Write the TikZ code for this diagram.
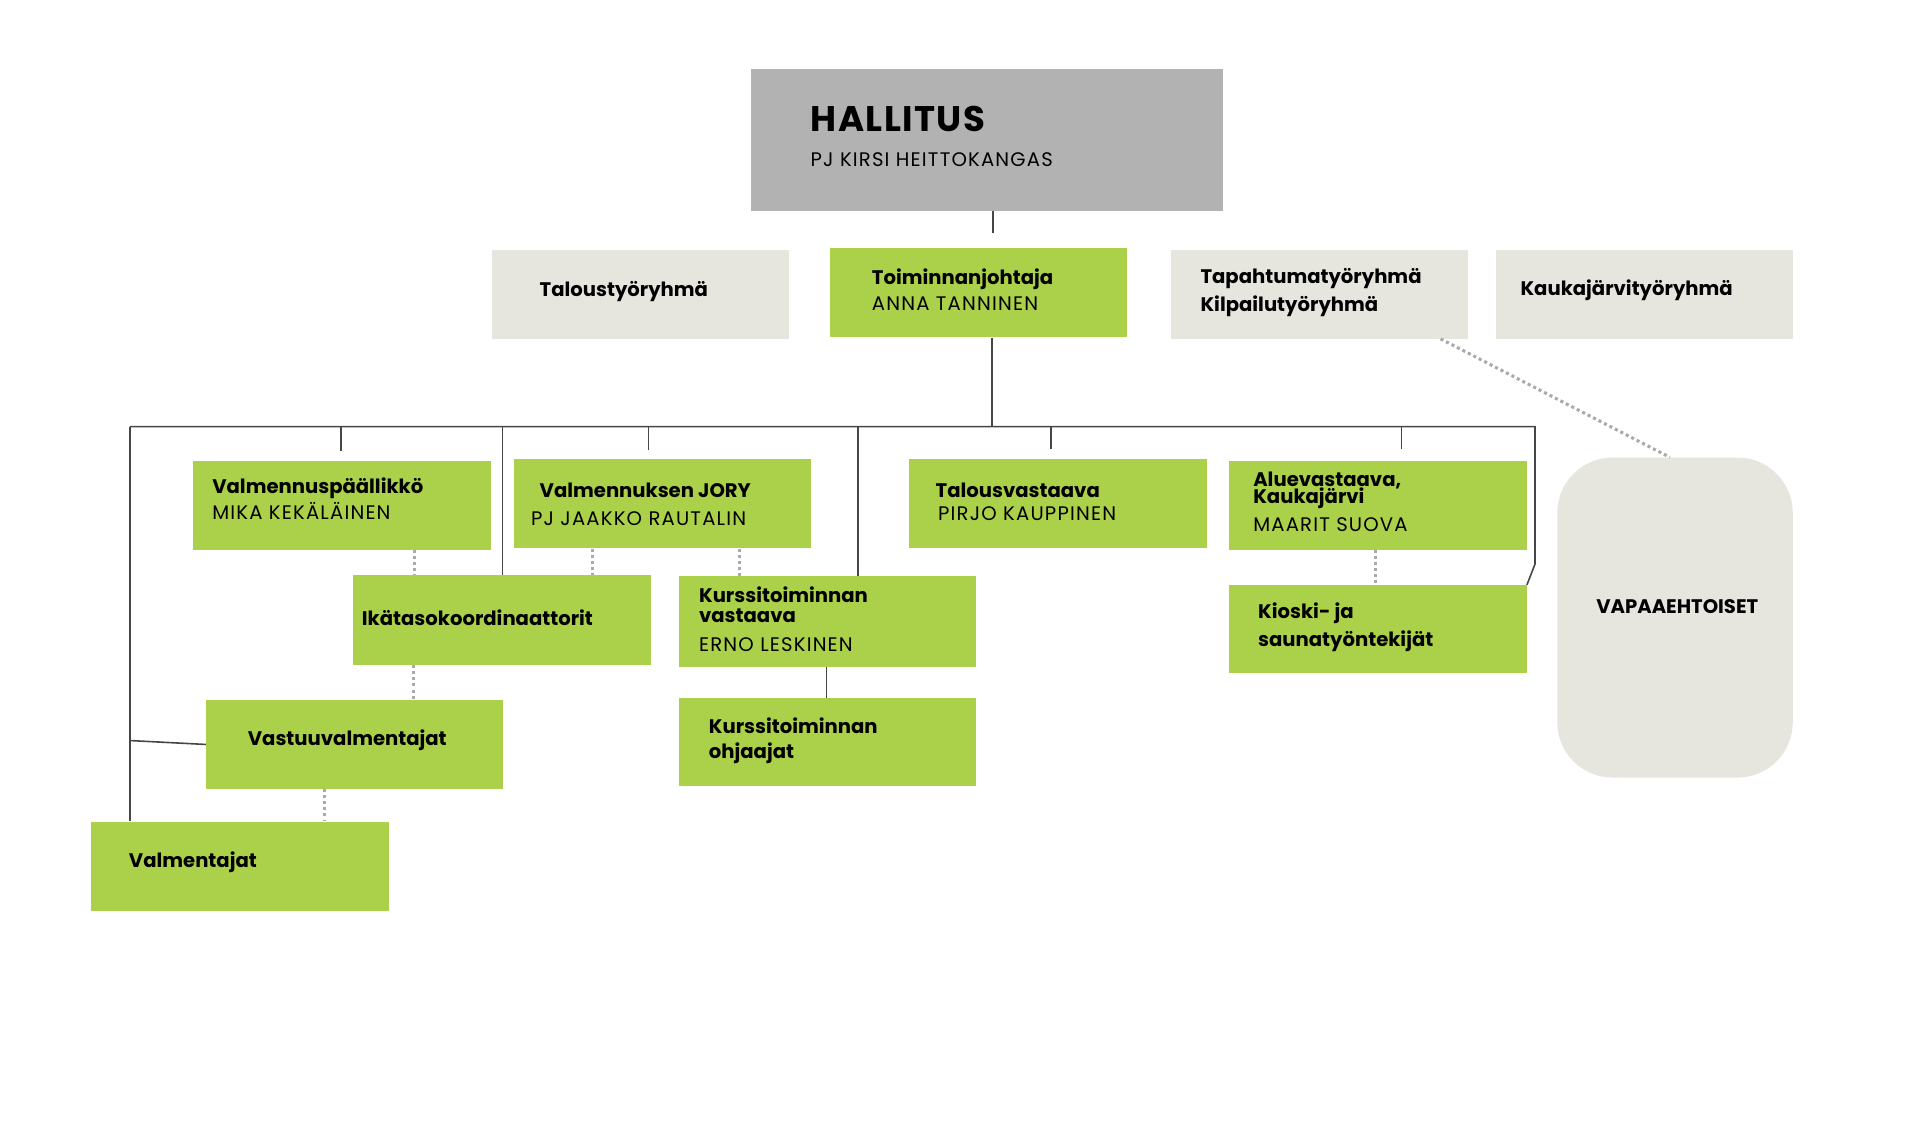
\documentclass[tikz,border=0pt]{standalone}
\usepackage{fontspec}
\setmainfont{Poppins}
\newfontfamily\popsemi{Poppins}[UprightFont={* SemiBold},BoldFont={* Bold}]
\begin{document}
\begin{tikzpicture}[x=1pt,y=-1pt,
  gbox/.style={fill=green!0!black!0,fill={rgb,255:red,171;green,208;blue,74},draw=none,anchor=north west,inner sep=0},
  lbox/.style={fill={rgb,255:red,230;green,230;blue,222},draw=none,anchor=north west,inner sep=0},
  bt/.style={anchor=west,inner sep=0,font=\fontsize{16}{16}\selectfont\bfseries},
  nt/.style={anchor=west,inner sep=0,font=\fontsize{16}{16}\selectfont\addfontfeature{LetterSpace=6}},
  ln/.style={draw={rgb,255:red,70;green,70;blue,70},line width=1.3pt},
  dl/.style={draw={rgb,255:red,170;green,170;blue,170},line width=2.5pt,dash pattern=on 2.5pt off 2.5pt}]
\useasboundingbox (0,0) rectangle (1566,918);
% boxes
\node[anchor=north west,inner sep=0,fill={rgb,255:red,178;green,178;blue,178},minimum width=385,minimum height=116] (hal) at (612,56) {};
\node[lbox,minimum width=242,minimum height=72] (talr) at (401,204) {};
\node[gbox,minimum width=242,minimum height=73] (toim) at (677,202) {};
\node[lbox,minimum width=242,minimum height=72] (tap) at (955,204) {};
\node[lbox,minimum width=242,minimum height=72] (kauk) at (1220,204) {};
\node[gbox,minimum width=243,minimum height=72] (valp) at (157,376) {};
\node[gbox,minimum width=242,minimum height=73] (jory) at (419,374) {};
\node[gbox,minimum width=243,minimum height=73] (talv) at (741,374) {};
\node[gbox,minimum width=243,minimum height=72] (alue) at (1002,376) {};
\node[gbox,minimum width=243,minimum height=73] (ika) at (288,469) {};
\node[gbox,minimum width=242,minimum height=74] (kurv) at (554,470) {};
\node[gbox,minimum width=243,minimum height=72] (kios) at (1002,477) {};
\node[gbox,minimum width=242,minimum height=72] (vast) at (168,571) {};
\node[gbox,minimum width=242,minimum height=72] (kuro) at (554,569) {};
\node[gbox,minimum width=243,minimum height=73] (valm) at (74,670) {};
\node[anchor=north west,inner sep=0,fill={rgb,255:red,230;green,230;blue,222},rounded corners=45pt,minimum width=192,minimum height=261] (vapa) at (1270,373) {};
% texts
\node[anchor=west,inner sep=0,font=\fontsize{29}{29}\selectfont\bfseries\addfontfeature{LetterSpace=4}] (t1) at (661,97) {HALLITUS};
\node[nt] (t2) at (661,130) {PJ KIRSI HEITTOKANGAS};
\node[bt] (t3) at (440,238) {Taloustyöryhmä};
\node[bt] (t4) at (711,228) {Toiminnanjohtaja};
\node[nt] (t5) at (711,248) {ANNA TANNINEN};
\node[bt] (t6) at (979,227) {Tapahtumatyöryhmä};
\node[bt] (t7) at (979,250) {Kilpailutyöryhmä};
\node[bt] (t8) at (1240,237) {Kaukajärvityöryhmä};
\node[bt] (t9) at (173,398) {Valmennuspäällikkö};
\node[nt] (t10) at (173,417) {MIKA KEKÄLÄINEN};
\node[bt] (t11) at (440,400) {Valmennuksen JORY};
\node[nt] (t12) at (433,423) {PJ JAAKKO RAUTALIN};
\node[bt] (t13) at (763,400) {Talousvastaava};
\node[nt] (t14) at (765,419) {PIRJO KAUPPINEN};
\node[bt] (t15) at (1022,392) {Aluevastaava,};
\node[bt] (t16) at (1022,406) {Kaukajärvi};
\node[nt] (t17) at (1022,428) {MAARIT SUOVA};
\node[bt] (t18) at (295,504) {Ikätasokoordinaattorit};
\node[bt] (t19) at (570,485) {Kurssitoiminnan};
\node[bt] (t20) at (570,502) {vastaava};
\node[nt] (t21) at (570,526) {ERNO LESKINEN};
\node[bt] (t22) at (1026,500) {Kioski- ja};
\node[bt] (t23) at (1026,523) {saunatyöntekijät};
\node[bt] (t24) at (202,604) {Vastuuvalmentajat};
\node[bt] (t25) at (578,592) {Kurssitoiminnan};
\node[bt] (t26) at (578,614) {ohjaajat};
\node[bt] (t27) at (105,703) {Valmentajat};
\node[inner sep=0,font=\fontsize{16}{16}\selectfont\bfseries] (t28) at (1368,495) {VAPAAEHTOISET};
% coordinates
\coordinate (L) at (106,348);
\coordinate (R) at (1252,348);
\coordinate (toimbus) at (809,348);
% solid connectors
\draw[ln] (hal.south -| 810,0) -- (810,190);
\draw[ln] (toim.south -| 809,0) -- (toimbus);
\draw[ln] (L) -- (R) -- (1252,460) -- (kios.north east);
\draw[ln] (L) -- (valm.north -| L);
\draw[ln] (106,604) -- (vast.west);
\draw[ln] (278,348) -- (278,368);
\draw[ln] (529,348) -- (529,367);
\draw[ln] (857,348) -- (857,366);
\draw[ln] (1143,348) -- (1143,366);
\draw[ln] (410,348) -- (ika.north -| 410,0);
\draw[ln] (700,348) -- (kurv.north -| 700,0);
\draw[ln] (kurv.south -| 674,0) -- (kuro.north -| 674,0);
% dotted connectors
\draw[dl] (valp.south -| 338,0) -- (ika.north -| 338,0);
\draw[dl] (jory.south -| 483,0) -- (ika.north -| 483,0);
\draw[dl] (jory.south -| 603,0) -- (kurv.north -| 603,0);
\draw[dl] (ika.south -| 337,0) -- (vast.north -| 337,0);
\draw[dl] (vast.south -| 265,0) -- (valm.north -| 265,0);
\draw[dl] (alue.south -| 1122,0) -- (kios.north -| 1122,0);
\draw[dl] (tap.south -| 1175,0) -- (vapa.north -| 1362,0);
\end{tikzpicture}
\end{document}
